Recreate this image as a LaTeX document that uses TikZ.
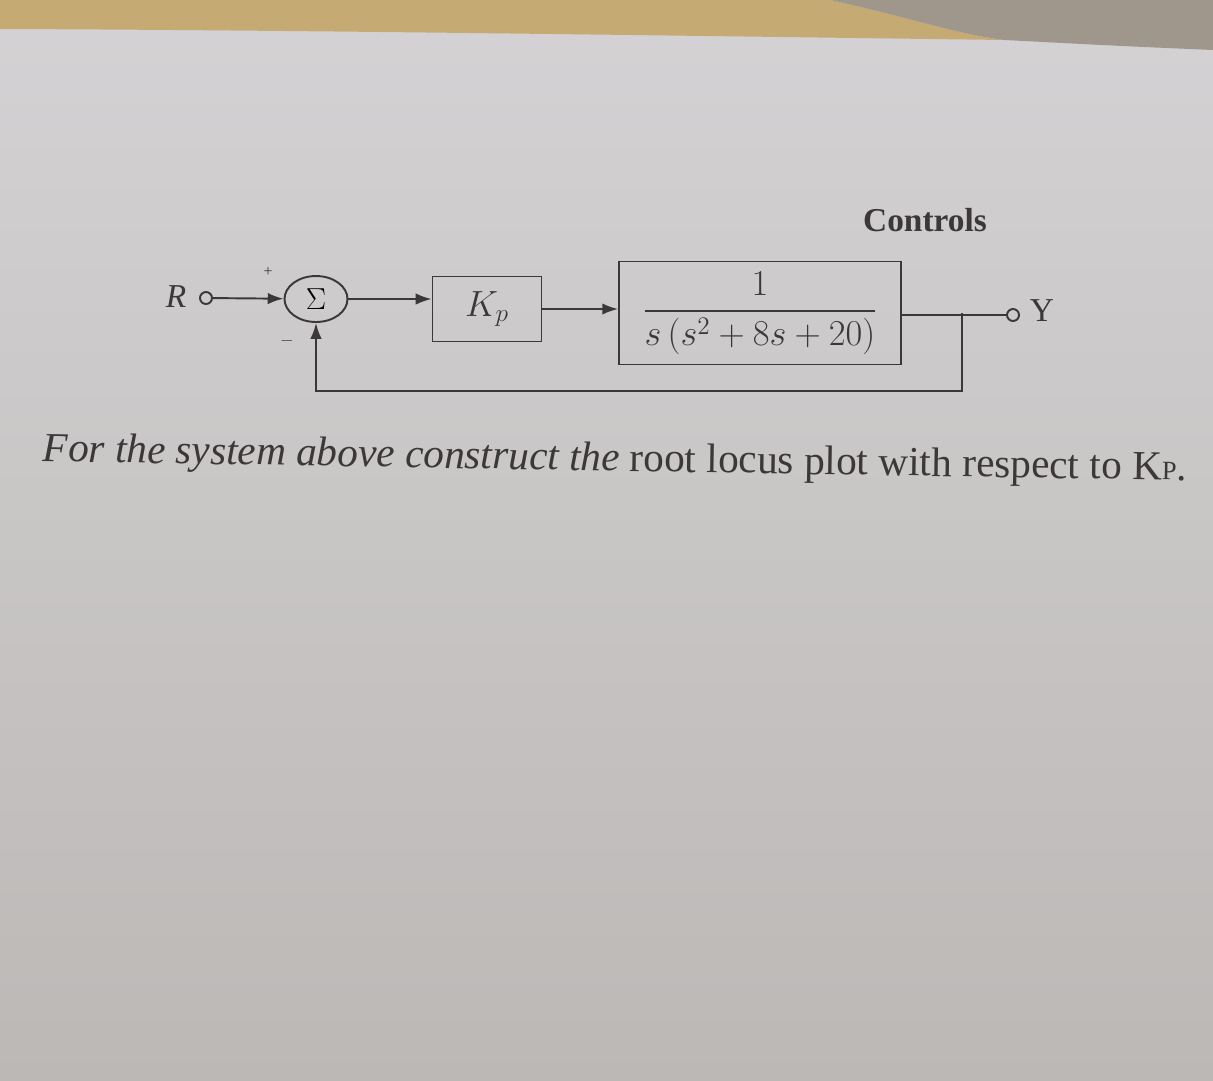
\documentclass[tikz,border=0pt]{standalone}
\usepackage{amsmath}
\usepackage{fontspec}
\setmainfont{Liberation Serif}
\usetikzlibrary{arrows.meta,shapes.geometric}
\definecolor{paper}{HTML}{D4D2D4}
\definecolor{paperlow}{HTML}{BCB8B6}
\definecolor{tape}{HTML}{C6AA74}
\definecolor{desk}{HTML}{9F978C}
\definecolor{ink}{HTML}{3C3838}
\begin{document}
\begin{tikzpicture}
      [x=0.02cm,y=-0.02cm,inner sep=1mm,
       wire/.style={draw=ink,line width=1.1pt},
       sig/.style={wire,-{Latex[length=9pt,width=6.5pt]}},
       block/.style={rectangle,draw=ink,line width=1.1pt,inner sep=0pt},
       summer/.style={ellipse,draw=ink,line width=1.1pt,inner sep=0pt,
                      minimum width=1.26cm,minimum height=0.92cm},
       port/.style={circle,draw=ink,line width=1.1pt,inner sep=0pt,minimum size=0.24cm},
       lbl/.style={text=ink,inner sep=0pt}]
      \useasboundingbox (0,0) rectangle (1213,1080);
      % photo background
      \shade [top color=paper,bottom color=paperlow] (0,0) rectangle (1213,1080);
      \fill [tape] (0,0) -- (830,0) .. controls (900,15) and (960,35) .. (1005,40)
            .. controls (700,36) and (300,30) .. (0,29) -- cycle;
      \fill [desk] (830,0) -- (1213,0) -- (1213,50) .. controls (1120,46) .. (1005,40)
            .. controls (960,35) and (900,15) .. (830,0) -- cycle;
      % blocks
      \node at (176,297) (rlabel) [lbl] {\fontsize{19}{20}\selectfont\itshape R};
      \node at (206,298) (rin) [port] {};
      \node at (316,299) (sum) [summer] {\fontsize{16}{18}\selectfont$\Sigma$};
      \node at (268,272) (plus) [lbl] {\fontsize{9}{9}\selectfont +};
      \node at (287,341) (minus) [lbl] {\fontsize{10}{10}\selectfont $-$};
      \node at (487,309) (kp) [block,minimum width=2.18cm,minimum height=1.3cm]
            {\color{ink}\fontsize{20}{22}\selectfont$K_p$};
      \node at (760,313) (plant) [block,minimum width=5.64cm,minimum height=2.06cm]
            {\color{ink}\fontsize{21}{24}\selectfont$\dfrac{1}{s\left(s^2+8s+20\right)}$};
      \node at (925,220) (controls) [lbl] {\fontsize{19}{20}\selectfont\bfseries Controls};
      \coordinate (branch) at (962,313);
      \coordinate (fb) at (962,391);
      \node at (1013,315) (out) [port] {};
      \node at (1042,311) (ylabel) [lbl] {\fontsize{19}{20}\selectfont Y};
      \node at (615,461) (task) [lbl,rotate=-0.95] {\fontsize{23.5}{27}\selectfont
            \textit{For the system above construct the} root locus plot with respect to
            K{\fontsize{15}{15}\selectfont P}.};
      % signals
      \draw [sig] (rin) -- (sum);
      \draw [sig] (sum.east) -- (sum.east -| kp.west);
      \draw [sig] (kp.east) -- (kp.east -| plant.west);
      \draw [wire] (plant.east |- out) -- (out);
      \draw [sig] (branch) -- (fb) -| (sum.south);
\end{tikzpicture}
\end{document}
